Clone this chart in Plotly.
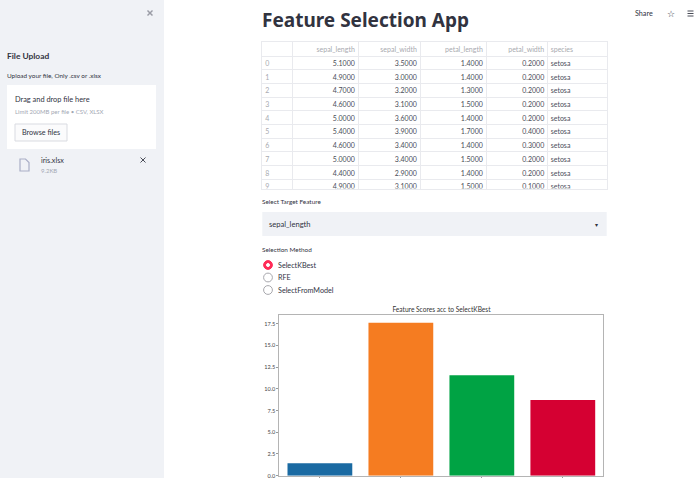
import plotly.graph_objects as go

W = 700
H = 478
FONT = "Lato"
TITLE_FONT = "Noto Sans"
DARK = "#31333f"
GRAY = "#a3a8b4"
PANEL = "#f0f2f6"
GRID = "#e9eaee"

# 柱状图数据
features = ["sepal_width", "petal_length", "petal_width", "species"]
feature_scores = [1.43, 17.6, 11.56, 8.71]
bar_colors = ["#1a6aa2", "#f57c21", "#00a344", "#d50032"]
score_ticks = [0, 2.5, 5, 7.5, 10, 12.5, 15, 17.5]
score_labels = ["0.0", "2.5", "5.0", "7.5", "10.0", "12.5", "15.0", "17.5"]

# 表格数据
table_columns = ["", "sepal_length", "sepal_width", "petal_length", "petal_width", "species"]
row_index = ["0", "1", "2", "3", "4", "5", "6", "7", "8", "9"]
sepal_length = ["5.1000", "4.9000", "4.7000", "4.6000", "5.0000", "5.4000", "4.6000", "5.0000", "4.4000", "4.9000"]
sepal_width = ["3.5000", "3.0000", "3.2000", "3.1000", "3.6000", "3.9000", "3.4000", "3.4000", "2.9000", "3.1000"]
petal_length = ["1.4000", "1.4000", "1.3000", "1.5000", "1.4000", "1.7000", "1.4000", "1.5000", "1.4000", "1.5000"]
petal_width = ["0.2000", "0.2000", "0.2000", "0.2000", "0.2000", "0.4000", "0.3000", "0.2000", "0.2000", "0.1000"]
species = ["setosa"] * 10

# 表格列边界（像素）
col_edges = [262.3, 292.3, 358.3, 420.3, 486.3, 547.7, 606.7]
table_top = 42.3
table_bottom = 188.5
row_height = 13.7
# 文字基线偏上，往下挪一点
text_shift = 0.1


def px(x):
    return x / W


def py(y):
    return 1 - y / H


def text(label, x, y, size=6.5, color=DARK, anchor="left", bold=False, family=FONT):
    return dict(
        text=f"<b>{label}</b>" if bold else label,
        x=px(x - 2 if anchor == "left" else x), y=py(y), xref="paper", yref="paper",
        xanchor=anchor, yanchor="middle", showarrow=False,
        font=dict(family=family, size=size, color=color),
    )


def rect(x0, y0, x1, y1, fill, line=None):
    return dict(
        type="rect", xref="paper", yref="paper",
        x0=px(x0), x1=px(x1), y0=py(y0), y1=py(y1),
        fillcolor=fill, line=dict(color=line or fill, width=1 if line else 0),
        layer="below",
    )


def line(x0, y0, x1, y1, color, width=1):
    return dict(
        type="line", xref="paper", yref="paper",
        x0=px(x0), x1=px(x1), y0=py(y0), y1=py(y1),
        line=dict(color=color, width=width),
    )


def circle(cx, cy, r, fill, color, width=1):
    return dict(
        type="circle", xref="paper", yref="paper",
        x0=px(cx - r), x1=px(cx + r), y0=py(cy - r), y1=py(cy + r),
        fillcolor=fill, line=dict(color=color, width=width),
    )


fig = go.Figure()

# 特征得分柱状图
fig.add_trace(go.Bar(
    x=features, y=feature_scores, width=0.8,
    marker=dict(color=bar_colors, line=dict(width=0)),
    showlegend=False, hoverinfo="skip",
))

# 表格用文字散点画，第9行被坐标轴裁掉一部分
table_rows = [row_index, sepal_length, sepal_width, petal_length, petal_width, species]
header_y = -1
for i, (name, values) in enumerate(zip(table_columns, table_rows)):
    left_aligned = i in (0, 5)
    x_pos = col_edges[i] + 3 if left_aligned else col_edges[i + 1] - 3.5
    position = "middle right" if left_aligned else "middle left"
    fig.add_trace(go.Scatter(
        x=[x_pos] * (len(values) + 1),
        y=[header_y + text_shift] + [int(r) + text_shift for r in row_index],
        text=[name] + values,
        mode="text", textposition=position,
        textfont=dict(family=FONT, size=7, color=["#a8aab0"] + ["#a8aab0" if i == 0 else "#4a4d58"] * len(values)),
        xaxis="x2", yaxis="y2", showlegend=False, hoverinfo="skip",
    ))

rows_shown = (table_bottom - table_top) / row_height
shapes = [
    rect(0, 0, 164, 478, PANEL),
    rect(7, 85, 156, 149, "#ffffff"),
    rect(15, 124, 67, 141, "#fbfbfc", "#d9dbe1"),
    rect(262.3, 212, 606.7, 236, PANEL),
    # 侧栏关闭图标
    line(147.5, 10.5, 152.5, 15.5, "#9a9ca6", 1.5),
    line(147.5, 15.5, 152.5, 10.5, "#9a9ca6", 1.5),
    line(140.5, 157.5, 145.5, 162.5, "#4a4d58", 1),
    line(140.5, 162.5, 145.5, 157.5, "#4a4d58", 1),
    # 文件图标
    dict(type="path", xref="paper", yref="paper",
         path=f"M {px(20)} {py(159)} L {px(25.5)} {py(159)} L {px(29)} {py(162.5)} "
              f"L {px(29)} {py(171)} L {px(20)} {py(171)} Z",
         line=dict(color="#a9aec6", width=1.2), fillcolor="rgba(0,0,0,0)"),
    # 菜单图标
    line(687.5, 11, 693.5, 11, "#4a4d58", 1),
    line(687.5, 13.5, 693.5, 13.5, "#4a4d58", 1),
    line(687.5, 16, 693.5, 16, "#4a4d58", 1),
    # 单选按钮
    circle(268, 265, 4.4, "#ff2b57", "#ff2b57"),
    circle(268, 265, 1.5, "#ffffff", "#ffffff"),
    circle(268, 277.5, 4.4, "#ffffff", "#a8a8ad"),
    circle(268, 290, 4.4, "#ffffff", "#a8a8ad"),
]

annotations = [
    text("File Upload", 7, 56.5, size=8.4, bold=True),
    text("Upload your file, Only .csv or .xlsx", 7, 76, size=6.4),
    text("Drag and drop file here", 15, 99.5, size=7.4),
    text("Limit 200MB per file • CSV, XLSX", 15, 111.5, size=6, color=GRAY),
    text("Browse files", 21.5, 132.5, size=7.2),
    text("iris.xlsx", 41, 160, size=7.2),
    text("9.2KB", 41, 171, size=6, color=GRAY),
    text("Feature Selection App", 262, 20, size=19, bold=True, family=TITLE_FONT),
    text("Share", 635, 13, size=7.2),
    text("☆", 670.5, 13, size=9, anchor="center"),
    text("Select Target Feature", 262, 202, size=6.4),
    text("sepal_length", 269, 224, size=7.6),
    text("▾", 596, 224, size=6, anchor="center"),
    text("Selection Method", 262, 249.5, size=6.4),
    text("SelectKBest", 278, 265, size=7.2),
    text("RFE", 278, 277.5, size=7.2),
    text("SelectFromModel", 278, 290, size=7.2),
]

fig.update_layout(
    width=W, height=H,
    margin=dict(l=0, r=0, t=0, b=0),
    paper_bgcolor="#ffffff", plot_bgcolor="#ffffff",
    title=dict(
        text="Feature Scores acc to SelectKBest",
        x=px(441.5), y=py(310), xref="paper", yref="paper",
        xanchor="center", yanchor="middle",
        font=dict(family=FONT, size=6.6, color="#333333"),
    ),
    shapes=shapes,
    annotations=annotations,
    xaxis=dict(
        domain=[px(279.4), px(603.3)], range=[-0.5, 3.5], automargin=False,
        showticklabels=False, ticks="outside", ticklen=2, tickcolor="#999999",
        showline=True, linecolor="#b4b4b4", linewidth=1, mirror=True, showgrid=False,
    ),
    yaxis=dict(
        domain=[py(475.7), py(314.7)], range=[0, 18.53], automargin=False,
        tickmode="array", tickvals=score_ticks, ticktext=score_labels,
        ticks="outside", ticklen=2, tickcolor="#999999", ticklabeloverflow="allow",
        tickfont=dict(family=FONT, size=5.6, color="#444444"),
        showline=True, linecolor="#b4b4b4", linewidth=1, mirror=True,
        showgrid=False, zeroline=False,
    ),
    xaxis2=dict(
        domain=[px(col_edges[0]), px(col_edges[-1])], range=[col_edges[0], col_edges[-1]],
        anchor="y2", tickmode="array", tickvals=col_edges, automargin=False,
        showticklabels=False, showgrid=True, gridcolor=GRID, gridwidth=1,
        zeroline=False, showline=True, linecolor=GRID, mirror=True,
    ),
    yaxis2=dict(
        domain=[py(table_bottom), py(table_top)], automargin=False,
        range=[rows_shown - 1.5, -1.5],
        anchor="x2", tickmode="array", tickvals=[r - 0.5 for r in range(0, 10)],
        showticklabels=False, showgrid=True, gridcolor=GRID, gridwidth=1,
        zeroline=False, showline=True, linecolor=GRID, mirror=True,
    ),
)

fig.write_html(
    "out.html",
    config=dict(displayModeBar=False),
    post_script="document.body.style.margin='0';document.documentElement.style.overflow='hidden';document.body.style.overflow='hidden';",
)
